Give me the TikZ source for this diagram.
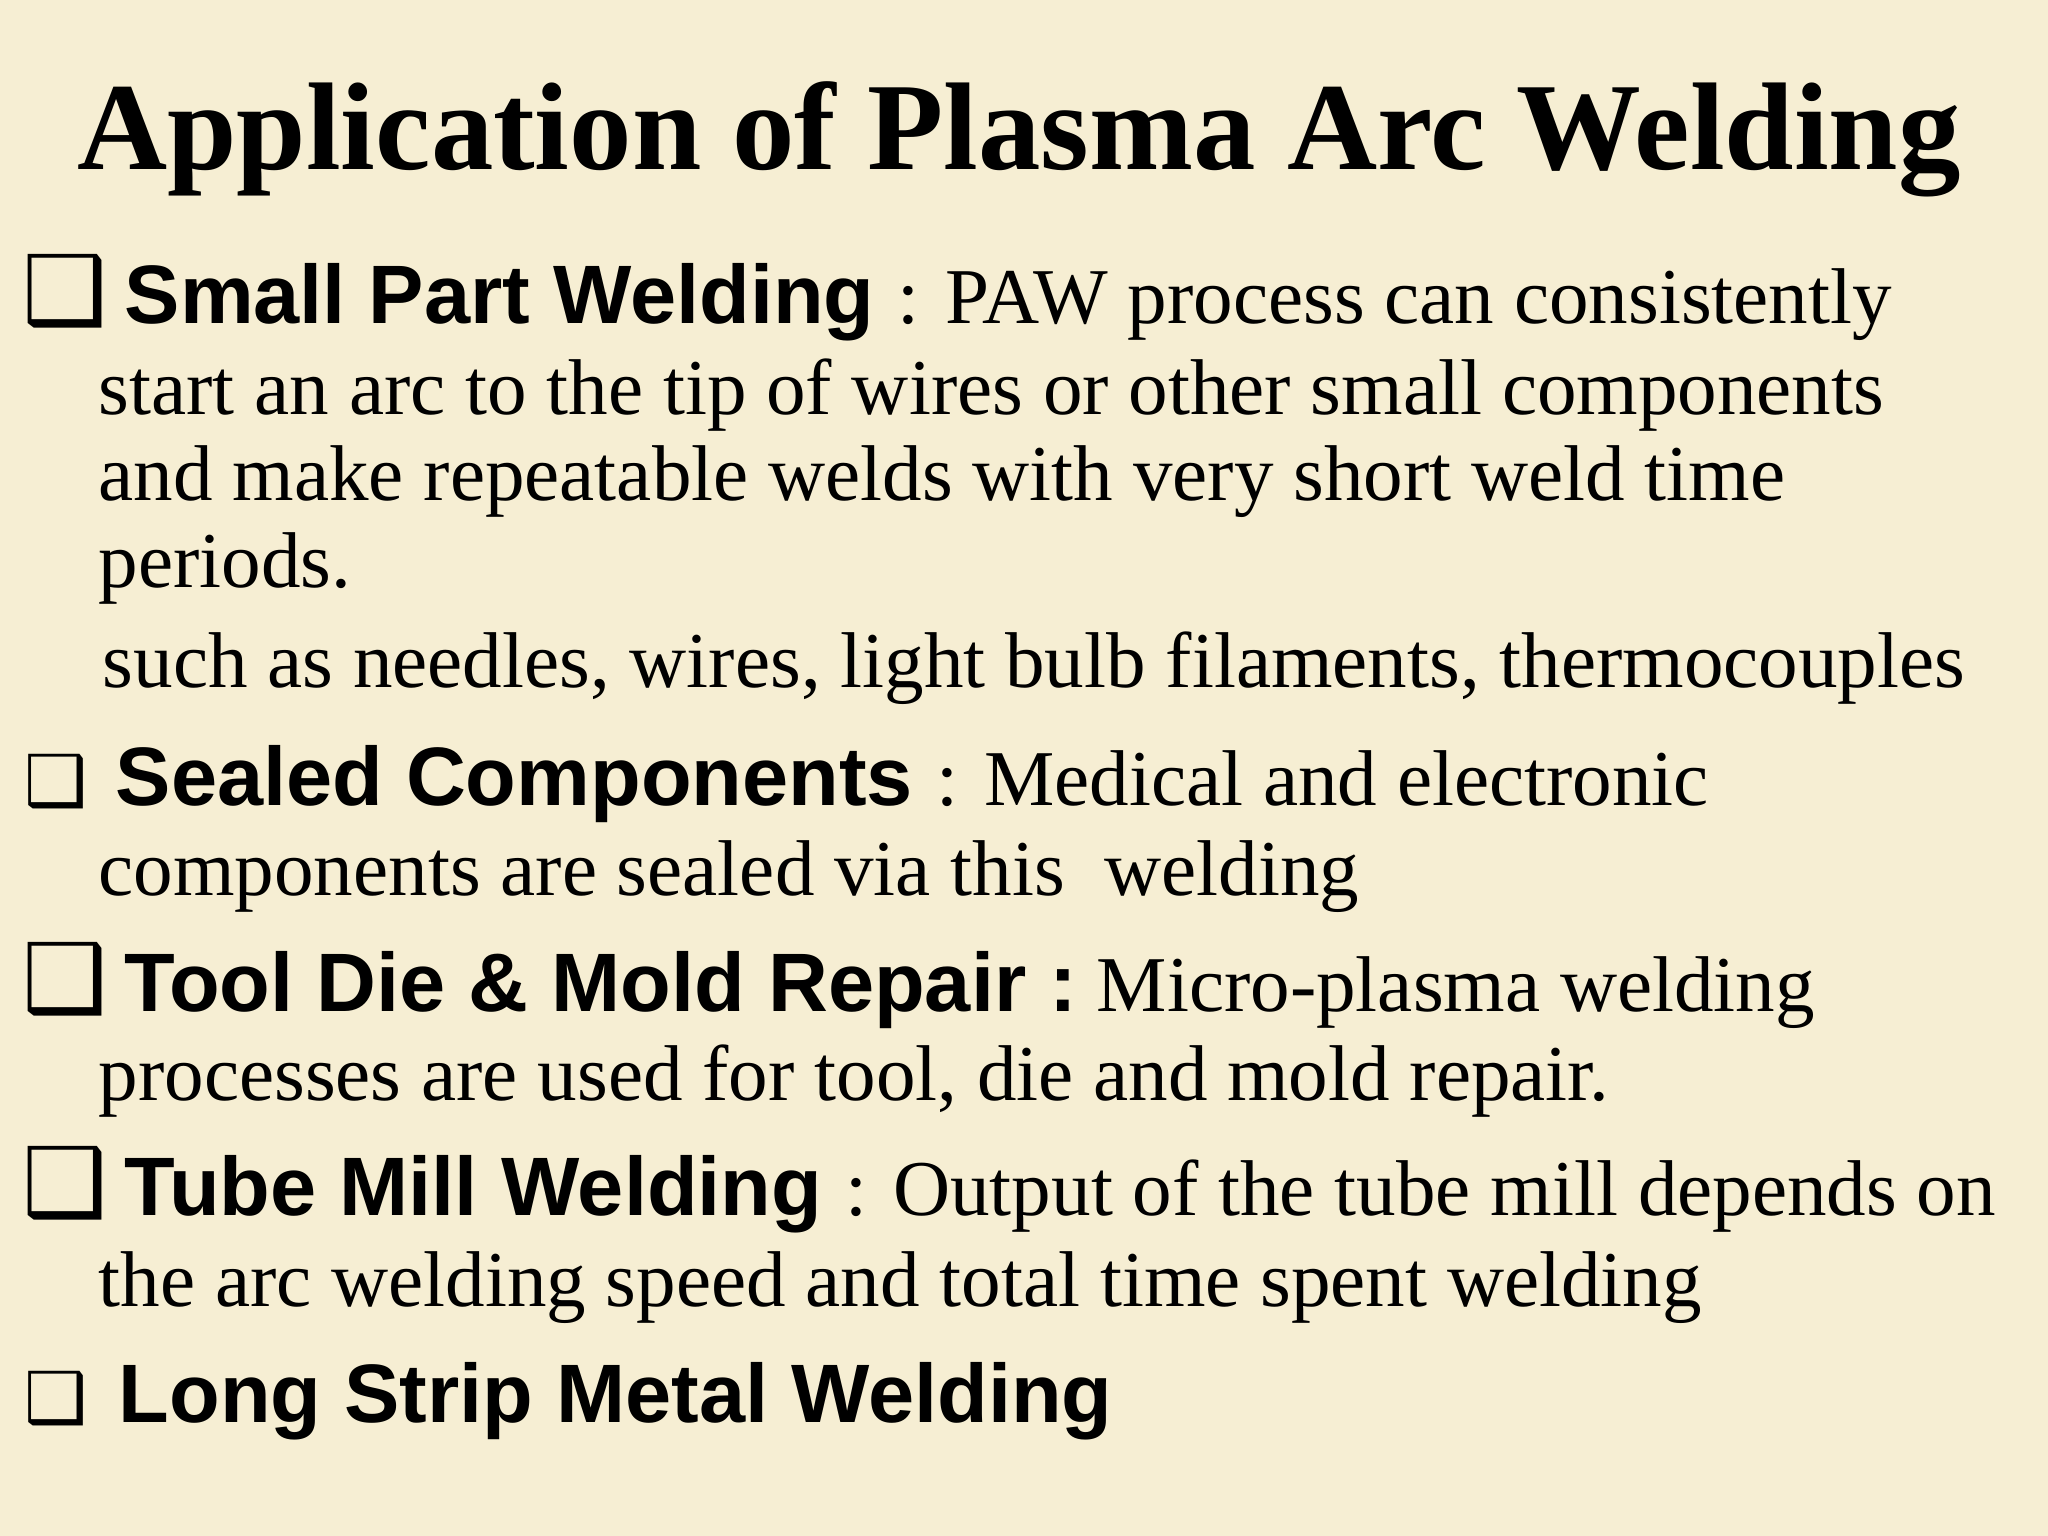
\documentclass[tikz,border=0pt]{standalone}
\usepackage{fontspec}
\setmainfont{Liberation Serif}
\setsansfont{Liberation Sans}
\newfontfamily\boxfont{DejaVu Sans}
\definecolor{parch}{HTML}{F6EED3}
\begin{document}
\begin{tikzpicture}[x=1cm,y=1cm,
  body/.style={anchor=base west,inner sep=0pt,font=\fontsize{22.5}{27}\selectfont},
  head/.style={anchor=base west,inner sep=0pt,font=\sffamily\bfseries\fontsize{23.6}{27}\selectfont},
  bx/.style={anchor=base west,inner sep=0pt,font=\boxfont\bfseries\fontsize{27}{30}\selectfont}]
\fill[parch] (0,0) rectangle (20.48,15.36);
\useasboundingbox (0,0) rectangle (20.48,15.36);
\node[anchor=base,inner sep=0pt,font=\bfseries\fontsize{35.5}{40}\selectfont] (title) at (10.19,13.66) {Application of Plasma Arc Welding};
\node[bx] (b1) at (0.22,12.12) {❑};
\node[head] (h1) at (1.24,12.12) {Small Part Welding {\rmfamily\mdseries\fontsize{22.5}{27}\selectfont: PAW process can consistently}};
\node[body] (l2) at (0.98,11.21) {start an arc to the tip of wires or other small components};
\node[body] (l3) at (0.98,10.35) {and make repeatable welds with very short weld time};
\node[body] (l4) at (0.98,9.48) {periods.};
\node[body] (l5) at (1.02,8.48) {such as needles, wires, light bulb filaments, thermocouples};
\node[bx,font=\boxfont\bfseries\fontsize{20}{22}\selectfont] (b2) at (0.24,7.30) {❑};
\node[head] (h2) at (1.15,7.30) {Sealed Components {\rmfamily\mdseries\fontsize{22.5}{27}\selectfont: Medical and electronic}};
\node[body] (l7) at (0.98,6.40) {components are sealed via this\ \ welding};
\node[bx] (b3) at (0.22,5.24) {❑};
\node[head] (h3) at (1.24,5.24) {Tool Die \& Mold Repair :{\rmfamily\mdseries\fontsize{22.5}{27}\selectfont\ Micro-plasma welding}};
\node[body] (l9) at (0.98,4.35) {processes are used for tool, die and mold repair.};
\node[bx] (b4) at (0.22,3.20) {❑};
\node[head] (h4) at (1.24,3.20) {Tube Mill Welding {\rmfamily\mdseries\fontsize{22.5}{27}\selectfont: Output of the tube mill depends on}};
\node[body] (l11) at (0.98,2.29) {the arc welding speed and total time spent welding};
\node[bx,font=\boxfont\bfseries\fontsize{20}{22}\selectfont] (b5) at (0.24,1.13) {❑};
\node[head] (h5) at (1.18,1.13) {Long Strip Metal Welding};
\end{tikzpicture}
\end{document}
